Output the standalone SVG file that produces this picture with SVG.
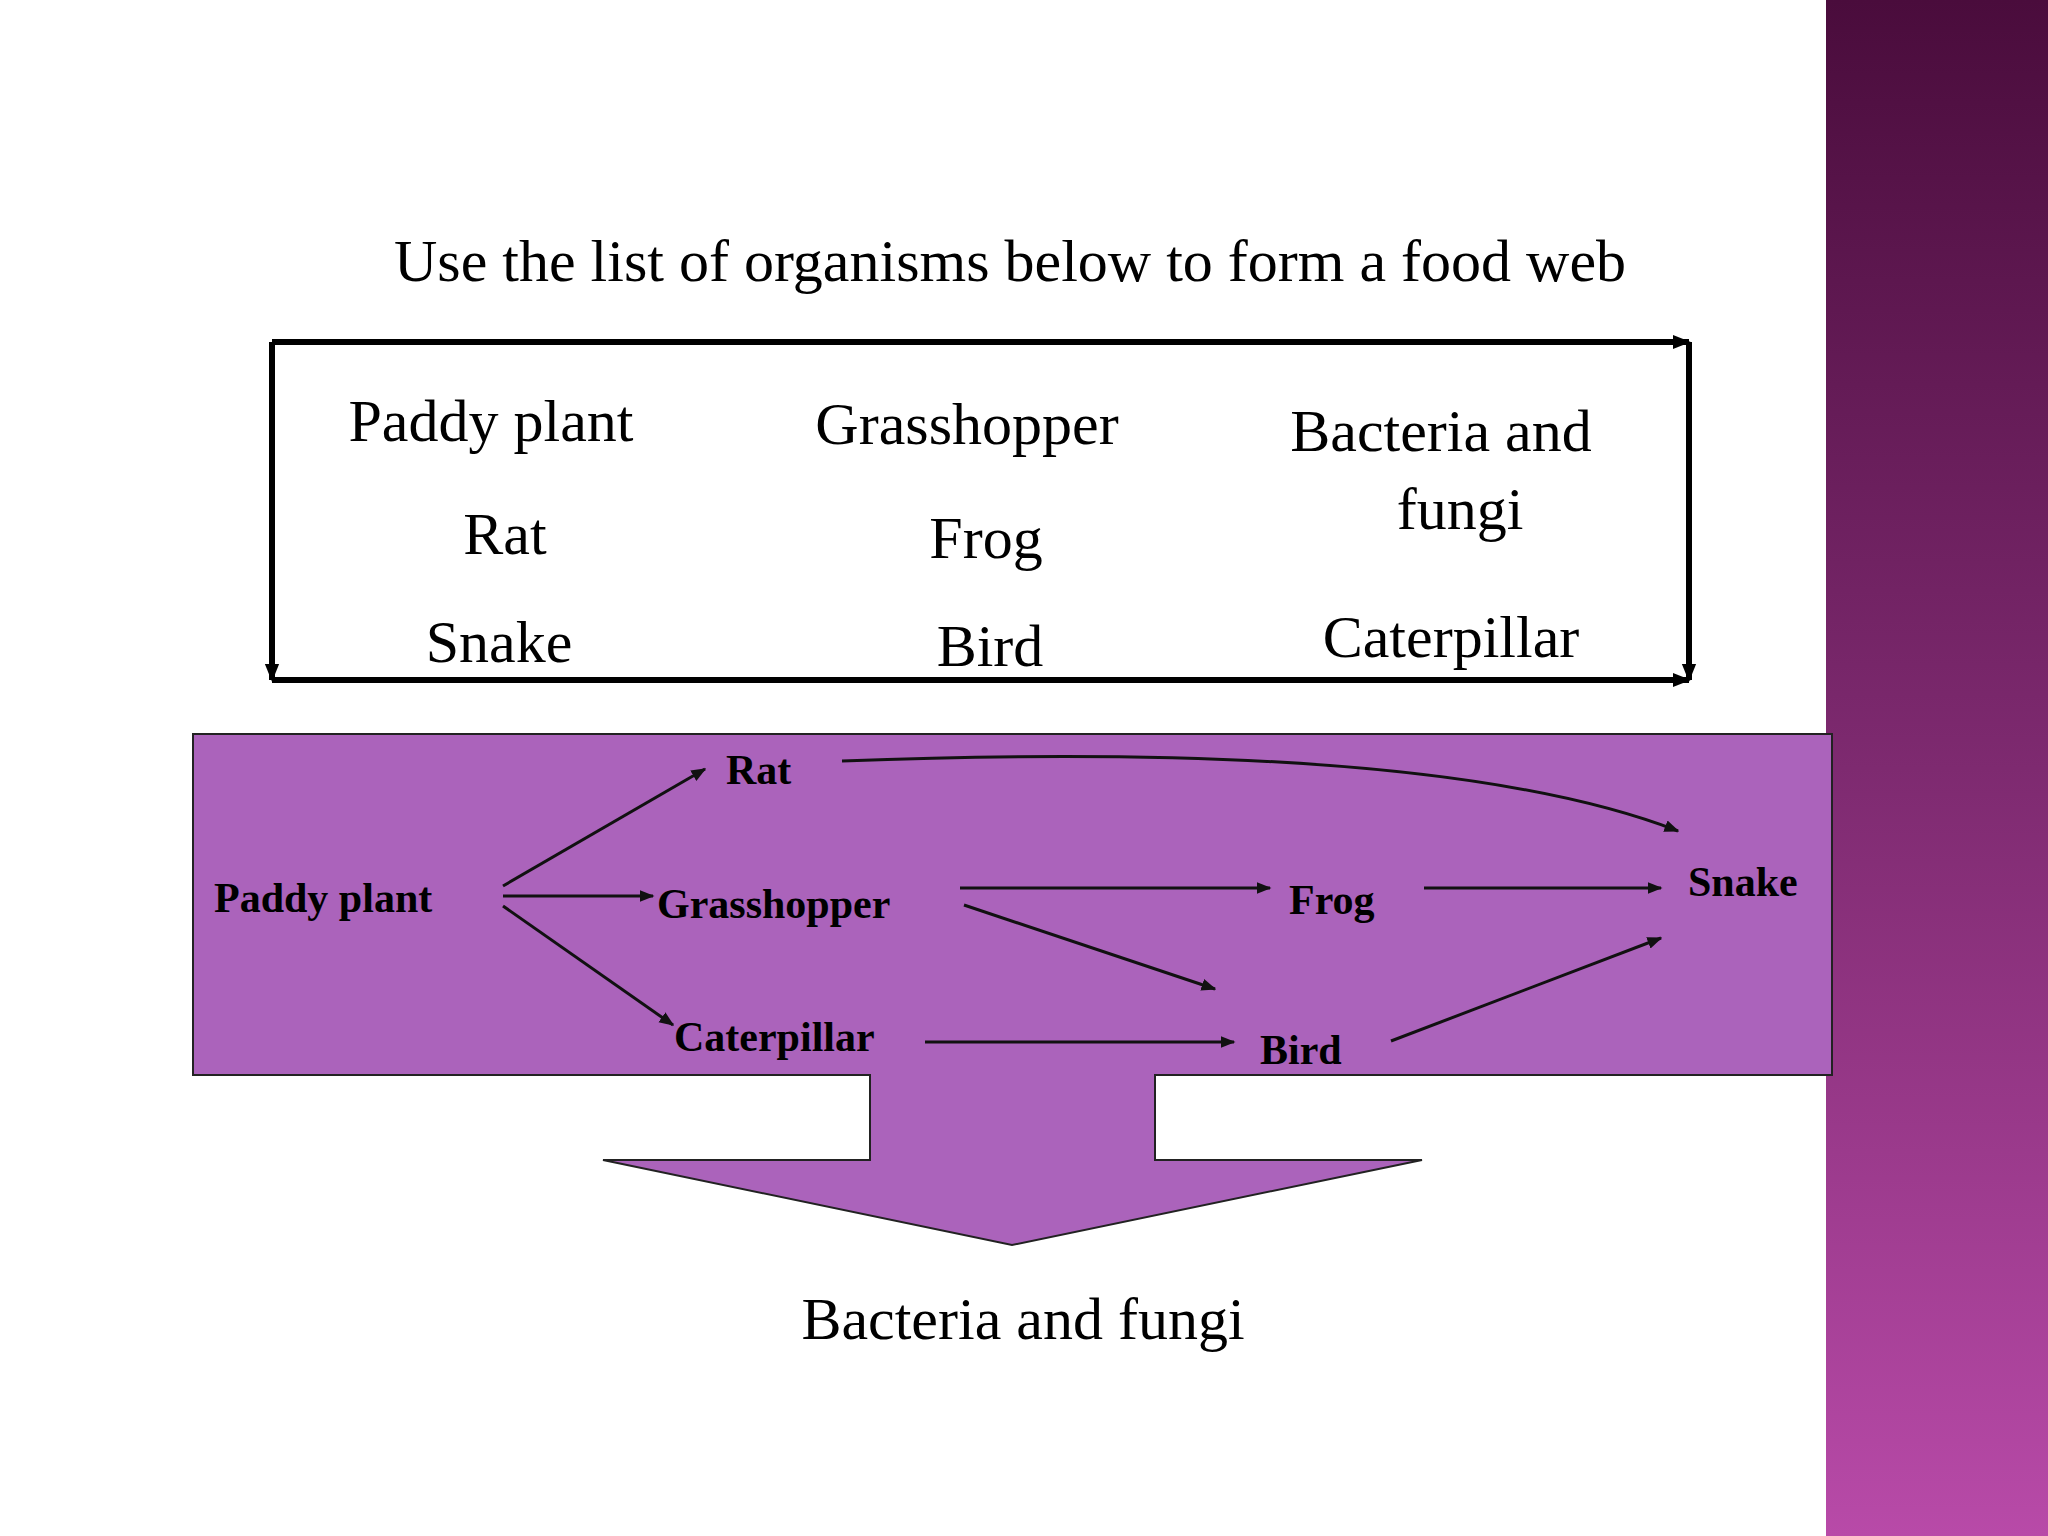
<svg xmlns="http://www.w3.org/2000/svg" width="2048" height="1536" viewBox="0 0 2048 1536">
<defs>
<linearGradient id="band" x1="0" y1="0" x2="0" y2="1">
<stop offset="0" stop-color="#4a0c3c"/>
<stop offset="0.5" stop-color="#7e2a70"/>
<stop offset="1" stop-color="#b84aa8"/>
</linearGradient>
<marker id="ah" viewBox="0 0 10 10" refX="9" refY="5" markerWidth="5" markerHeight="5" orient="auto" markerUnits="strokeWidth">
<path d="M0,1 L10,5 L0,9 Z" fill="#111"/>
</marker>
<marker id="bh" viewBox="0 0 10 10" refX="9" refY="5" markerWidth="3" markerHeight="3" orient="auto" markerUnits="strokeWidth">
<path d="M0,1 L10,5 L0,9 Z" fill="#000"/>
</marker>
</defs>
<style>
.t{font-family:"Liberation Serif",serif;font-size:60px;fill:#000}
.b{font-family:"Liberation Serif",serif;font-size:42px;font-weight:bold;fill:#000}
.c{fill:none;stroke:#111;stroke-width:3;marker-end:url(#ah)}
.k{fill:none;stroke:#000;stroke-width:6;marker-end:url(#bh)}
</style>
<rect width="2048" height="1536" fill="#fff"/>
<rect x="1826" y="0" width="222" height="1536" fill="url(#band)"/>
<text class="t" x="1010" y="281" text-anchor="middle">Use the list of organisms below to form a food web</text>
<g id="listbox">
<path class="k" d="M272,342 L1689,342"/>
<path class="k" d="M1689,342 L1689,680"/>
<path class="k" d="M272,342 L272,680"/>
<path class="k" d="M272,680 L1689,680"/>
</g>
<g id="list" class="t" text-anchor="middle">
<text x="491" y="441">Paddy plant</text>
<text x="505" y="554">Rat</text>
<text x="499" y="662">Snake</text>
<text x="967" y="444">Grasshopper</text>
<text x="986" y="558">Frog</text>
<text x="990" y="666">Bird</text>
<text x="1441" y="451">Bacteria and</text>
<text x="1460" y="529">fungi</text>
<text x="1451" y="657">Caterpillar</text>
</g>
<g id="panel">
<path d="M193,734 L1832,734 L1832,1075 L1155,1075 L1155,1160 L1422,1160 L1012,1245 L603,1160 L870,1160 L870,1075 L193,1075 Z" fill="#ab63bb" stroke="#222" stroke-width="2"/>
</g>
<g id="connectors">
<path class="c" d="M503,886 L705,769"/>
<path class="c" d="M503,896 L653,896"/>
<path class="c" d="M503,906 L673,1025"/>
<path class="c" d="M842,761 Q1437,738 1678,831"/>
<path class="c" d="M960,888 L1270,888"/>
<path class="c" d="M964,905 L1215,989"/>
<path class="c" d="M1424,888 L1661,888"/>
<path class="c" d="M925,1042 L1234,1042"/>
<path class="c" d="M1391,1041 L1661,938"/>
</g>
<g id="n-paddy"><text class="b" x="214" y="912">Paddy plant</text></g>
<g id="n-rat"><text class="b" x="726" y="784">Rat</text></g>
<g id="n-grass"><text class="b" x="657" y="918">Grasshopper</text></g>
<g id="n-cat"><text class="b" x="674" y="1051">Caterpillar</text></g>
<g id="n-frog"><text class="b" x="1289" y="914">Frog</text></g>
<g id="n-bird"><text class="b" x="1260" y="1064">Bird</text></g>
<g id="n-snake"><text class="b" x="1688" y="896">Snake</text></g>
<g id="n-decomp"><text class="t" x="1023" y="1339" text-anchor="middle">Bacteria and fungi</text></g>
</svg>
